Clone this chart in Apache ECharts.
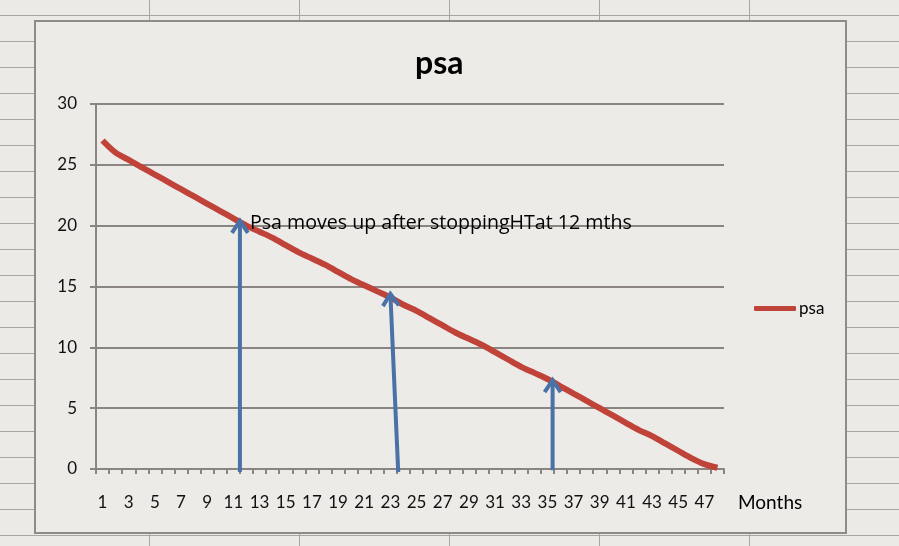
<!DOCTYPE html>
<html>
<head>
<meta charset="utf-8">
<script src="https://cdn.jsdelivr.net/npm/echarts@6/dist/echarts.min.js"></script>
<style>
html,body{margin:0;padding:0;background:#eceae7;}
#chart{width:899px;height:546px;}
</style>
</head>
<body>
<div id="chart"></div>
<script>
const months = ['1','2','3','4','5','6','7','8','9','10','11','12','13','14','15','16','17','18','19','20','21','22','23','24','25','26','27','28','29','30','31','32','33','34','35','36','37','38','39','40','41','42','43','44','45','46','47','48'];
const psa = [27.0,26.0,25.4,24.8,24.2,23.6,23.0,22.4,21.8,21.2,20.6,20.0,19.5,19.0,18.4,17.8,17.3,16.8,16.2,15.6,15.1,14.6,14.1,13.5,13.0,12.4,11.8,11.2,10.7,10.2,9.6,9.0,8.4,7.9,7.4,6.8,6.2,5.6,5.0,4.4,3.8,3.2,2.7,2.1,1.5,0.9,0.4,0.1];
const yTicks = [0,5,10,15,20,25,30];
// arrows: [x start (month), y start, x end (month), y end]
const arrows = [
  [11.5, -0.25, 11.5, 20.4],
  [23.6, -0.25, 23.0, 14.4],
  [35.4, -0.1, 35.4, 7.3]
];
const annotation = 'Psa moves up after stoppingHTat 12 mths';

const chart = echarts.init(document.getElementById('chart'));

// spreadsheet background cells
const bg = [];
for (let y = 15; y <= 546; y += 26) {
  bg.push({type:'line', silent:true, z:-10, shape:{x1:0,y1:y+0.5,x2:899,y2:y+0.5}, style:{stroke:'#a9a6a2', lineWidth:1}});
}
for (let x = 149; x <= 899; x += 150) {
  bg.push({type:'line', silent:true, z:-10, shape:{x1:x+0.5,y1:0,x2:x+0.5,y2:546}, style:{stroke:'#a9a6a2', lineWidth:1}});
}
bg.push({type:'rect', silent:true, z:-9, shape:{x:35,y:21,width:811,height:512}, style:{fill:'#edebe8', stroke:'#8f8b87', lineWidth:2}});
bg.push({type:'text', silent:true, z:10, left:250, top:213, style:{text:annotation, fill:'#000', font:'19.6px "Open Sans"'}});

chart.setOption({
  backgroundColor:'#eceae7',
  animation:false,
  title:{text:'psa', left:410, top:43, textStyle:{fontFamily:'Lato', fontWeight:'bold', fontSize:32, color:'#000'}},
  grid:{left:96, right:175, top:104, bottom:77},
  legend:{data:[{name:'psa', icon:'roundRect'}], left:749, top:295, itemWidth:42, itemHeight:5, textStyle:{fontFamily:'Lato', fontSize:17, color:'#000', padding:[0,0,0,-2]}},
  graphic: bg,
  xAxis:[{
    type:'category', data:months, boundaryGap:true,
    name:'Months', nameLocation:'end', nameGap:14,
    nameTextStyle:{fontFamily:'Lato', fontSize:19, color:'#000', verticalAlign:'top', padding:[24,0,0,0]},
    axisLine:{lineStyle:{color:'#8a8580', width:2}},
    axisTick:{show:true, interval:0, length:5, lineStyle:{color:'#8a8580', width:2}},
    axisLabel:{interval:1, margin:25, fontFamily:'Lato', fontSize:17, color:'#111'},
    splitLine:{show:false}
  },{
    type:'value', min:0.5, max:48.5, show:false
  }],
  yAxis:{
    type:'value', min:0, max:30, interval:5,
    axisLine:{show:true, lineStyle:{color:'#8a8580', width:2}},
    axisTick:{show:true, length:6, lineStyle:{color:'#8a8580', width:2}},
    axisLabel:{margin:19, padding:[5,0,0,0], fontFamily:'Lato', fontSize:17, color:'#111', formatter:function(v){return yTicks.indexOf(v)>=0?String(v):'';}},
    splitLine:{lineStyle:{color:'#8a8580', width:2}}
  },
  series:[{
    name:'psa', type:'line', data:psa, xAxisIndex:0, smooth:0.3, symbol:'none',
    lineStyle:{color:'#c0433a', width:6}, itemStyle:{color:'#c0433a'}
  },{
    type:'custom', xAxisIndex:1, yAxisIndex:0, clip:false, z:5, data:arrows,
    renderItem:function(params, api){
      const p0 = api.coord([api.value(0), api.value(1)]);
      const p1 = api.coord([api.value(2), api.value(3)]);
      const dx = p1[0]-p0[0], dy = p1[1]-p0[1];
      const len = Math.sqrt(dx*dx+dy*dy);
      const ux = dx/len, uy = dy/len;
      const px = -uy, py = ux;
      const hl = 12, hw = 8;
      const a = [p1[0]-ux*hl+px*hw, p1[1]-uy*hl+py*hw];
      const b = [p1[0]-ux*hl-px*hw, p1[1]-uy*hl-py*hw];
      const st = {stroke:'#4a72a6', lineWidth:4, fill:null, lineJoin:'miter', lineCap:'butt'};
      return {type:'group', children:[
        {type:'line', shape:{x1:p0[0],y1:p0[1],x2:p1[0],y2:p1[1]}, style:st},
        {type:'polyline', shape:{points:[a,p1,b]}, style:st}
      ]};
    }
  }]
});
</script>
</body>
</html>
